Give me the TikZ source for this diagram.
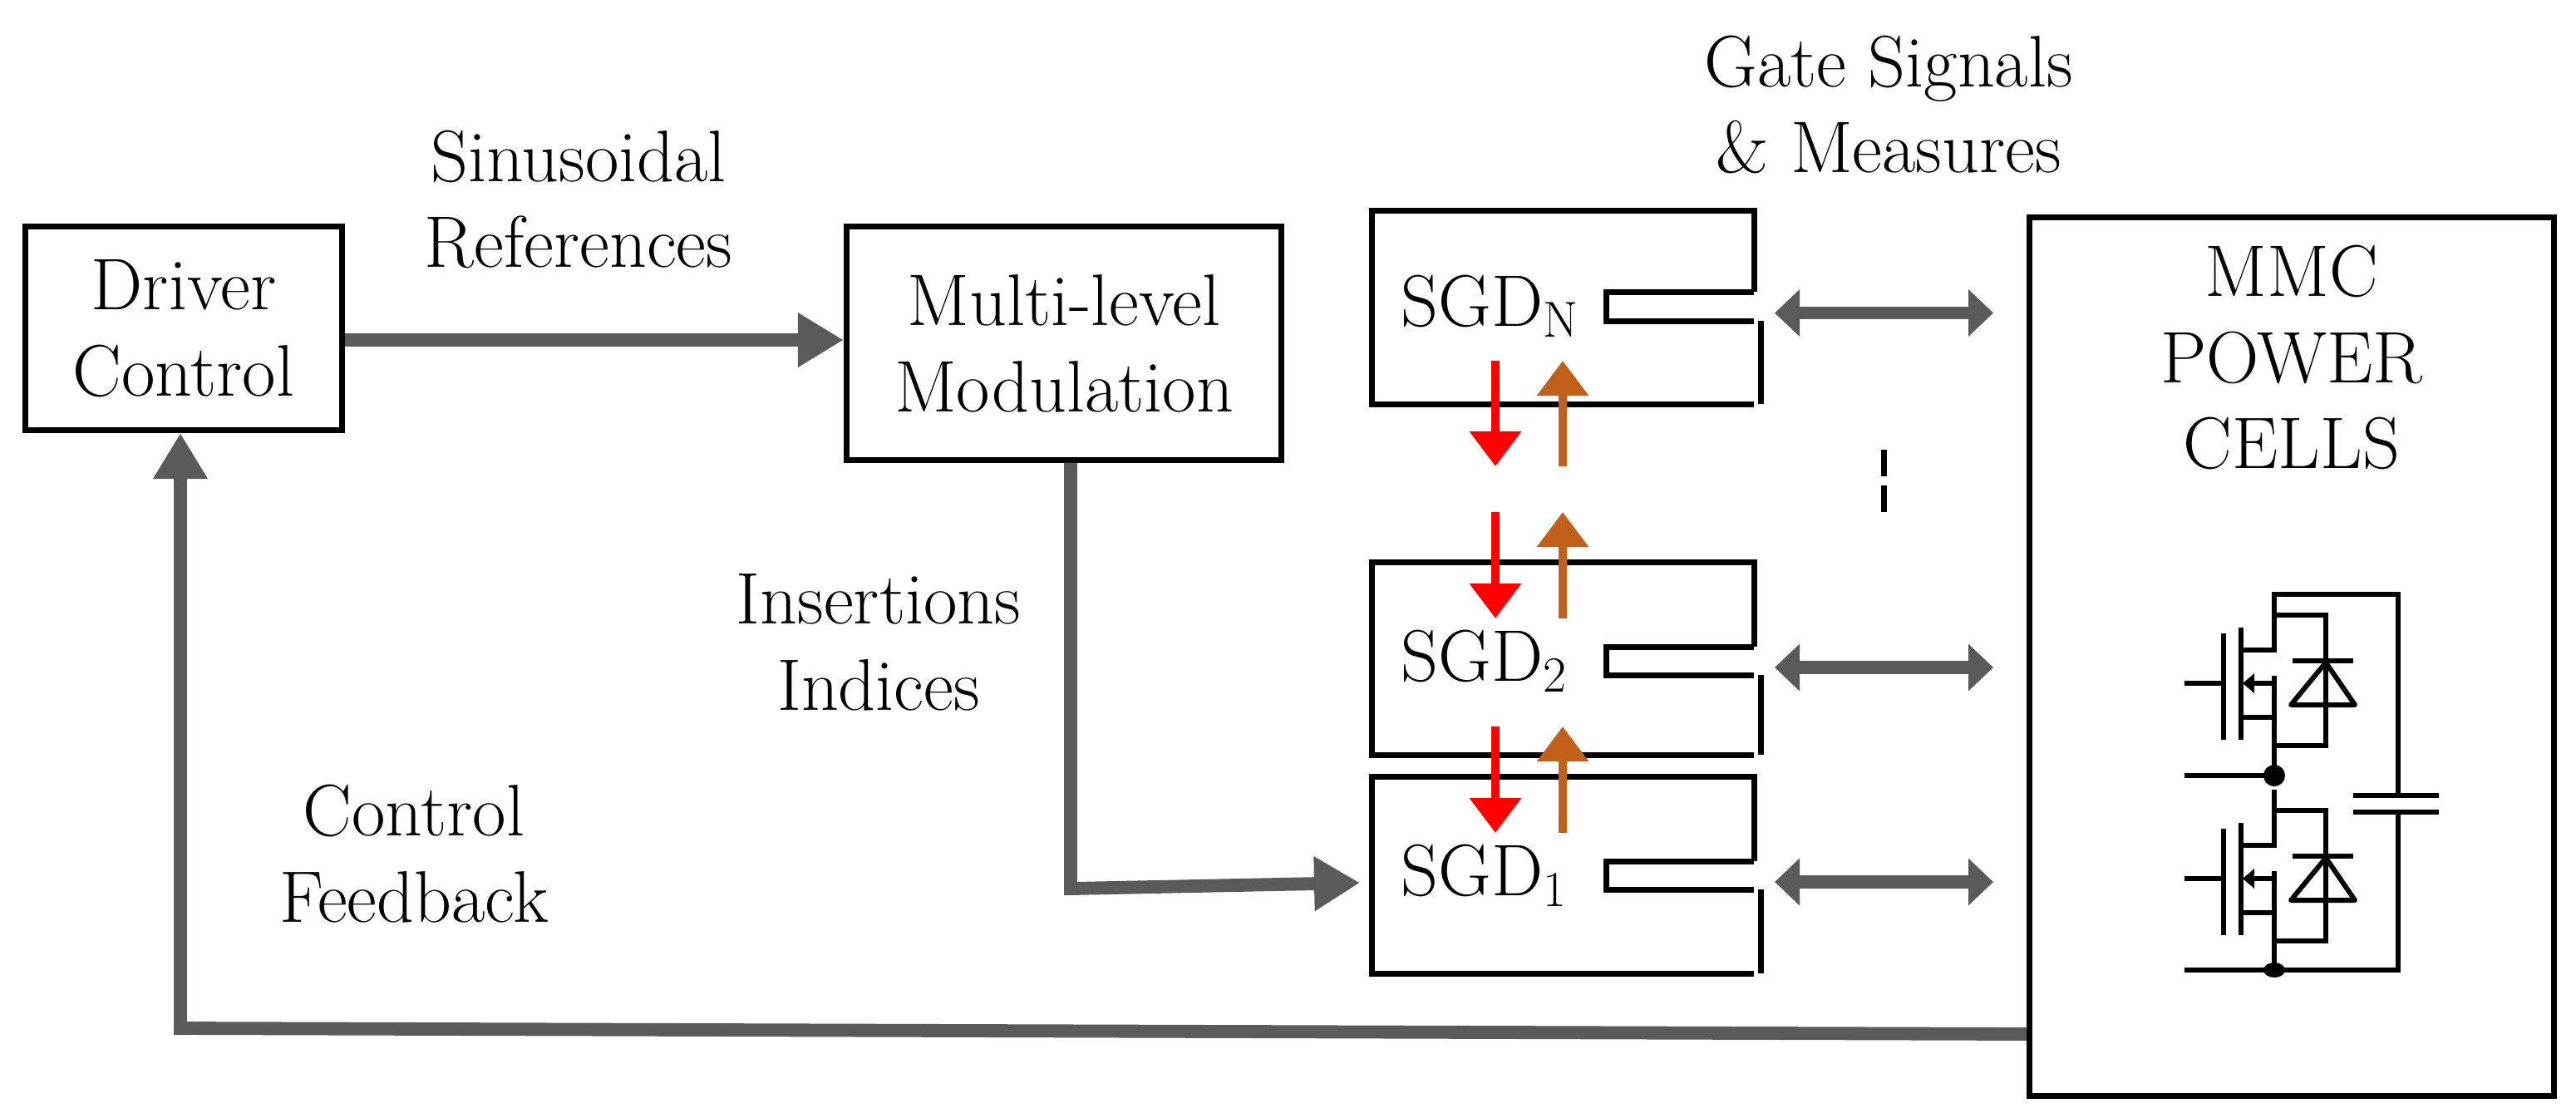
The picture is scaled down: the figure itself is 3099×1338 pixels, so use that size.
\documentclass[tikz,border=0pt]{standalone}
\usepackage{tikz}
\usetikzlibrary{arrows.meta}
\definecolor{dgray}{RGB}{90,90,90}
\definecolor{brn}{RGB}{192,96,26}
\begin{document}
\begin{tikzpicture}[x=0.01cm,y=-0.01cm,
  txt/.style={font=\fontsize{25}{29.5}\selectfont,align=center,inner sep=0pt},
  box/.style={draw,line width=2pt,txt},
  garr/.style={draw=dgray,line width=4.5pt,-{Triangle[length=0.55cm,width=0.62cm]}},
  darr/.style={draw=dgray,line width=4.5pt,{Triangle[length=0.3cm,width=0.55cm]}-{Triangle[length=0.3cm,width=0.55cm]}},
  rarr/.style={line width=2.8pt,-{Triangle[length=0.42cm,width=0.6cm]}},
  sgd/.style={line width=2pt},
  ckt/.style={line width=1.7pt}]
\useasboundingbox (0,0) rectangle (3099,1338);
% blocks
\node[box,minimum width=3.81cm,minimum height=2.45cm] (drv) at (221,395) {Driver\\Control};
\node[box,minimum width=5.23cm,minimum height=2.8cm] (mod) at (1280,413) {Multi-level\\Modulation};
\node[draw,line width=2pt,minimum width=6.31cm,minimum height=10.57cm] (mmc) at (2757,790) {};
% labels
\node[txt] at (696,240) {Sinusoidal\\References};
\node[txt] at (2272,126) {Gate Signals\\\&\ Measures};
\node[txt] at (1057,773) {Insertions\\Indices};
\node[txt] at (498,1027) {Control\\Feedback};
\node[txt] at (2757,430) {MMC\\POWER\\CELLS};
% SGD boxes
\foreach \n/\t/\b/\na/\nb/\lab in {N/253/486/351/386/{SGD$_\mathrm{N}$},2/676/908/778/812/{SGD$_2$},1/934/1171/1036/1070/{SGD$_1$}}{
  \draw[sgd] (2110,\na)--(2110,\t)--(1650,\t)--(1650,\b)--(2110,\b);
  \draw[sgd] (2110,\na)--(1932,\na)--(1932,\nb)--(2110,\nb);
  \draw[sgd] (2118,\nb)--(2118,\b);
  \node[txt,anchor=west] (s\n) at (1685,{(\na+\nb)/2}) {\lab};
  \coordinate (p\n) at (2135,{(\na+\nb)/2+8});
  \coordinate (q\n) at (2398,{(\na+\nb)/2+8});
  \draw[darr] (p\n) -- (q\n);
}
\coordinate (in1) at (1636,1062);
% red / orange arrows
\foreach \a/\b in {434/561,616/744,874/1002}{
  \draw[rarr,red] (1799,\a) -- (1799,\b);
  \draw[rarr,brn] (1880,\b) -- (1880,\a);
}
\draw[line width=2pt,dash pattern=on 0.32cm off 0.11cm] (2266,541) -- (2266,616);
% connectors
\draw[garr] (drv.east|-0,409) -- (mod.west|-0,409);
\draw[garr] (mod.south-|1288,0) -- (1288,1069) -- (in1);
\draw[garr] (mmc.west|-0,1244) -- (217,1237) -- (drv.south-|217,0);
% circuit
\draw[ckt] (2736,778)--(2736,715)--(2885,715)--(2885,957);
\draw[ckt] (2831,957)--(2934,957) (2831,977)--(2934,977);
\draw[ckt] (2885,977)--(2885,1167)--(2628,1167);
\draw[ckt] (2628,933)--(2736,933);
\fill (2736,933) circle (0.13cm) (2736,1167) ellipse (0.13cm and 0.09cm);
\foreach \d in {0,235}{
  \draw[ckt] (2628,822+\d)--(2672,822+\d) (2675,762+\d)--(2675,890+\d) (2696,755+\d)--(2696,890+\d);
  \draw[ckt] (2696,782+\d)--(2736,782+\d)--(2736,715+\d);
  \draw[ckt] (2736,813+\d)--(2736,933+\d);
  \draw[ckt] (2736,822+\d)--(2706,822+\d);
  \fill (2698,822+\d)--(2712,810+\d)--(2712,834+\d)--cycle;
  \draw[ckt] (2696,863+\d)--(2736,863+\d);
  \draw[ckt] (2736,740+\d)--(2798,740+\d)--(2798,897+\d)--(2736,897+\d);
  \draw[ckt] (2758,795+\d)--(2831,795+\d);
  \draw[ckt,line join=round] (2798,797+\d)--(2756,848+\d)--(2833,848+\d)--cycle;
}
\end{tikzpicture}
\end{document}
